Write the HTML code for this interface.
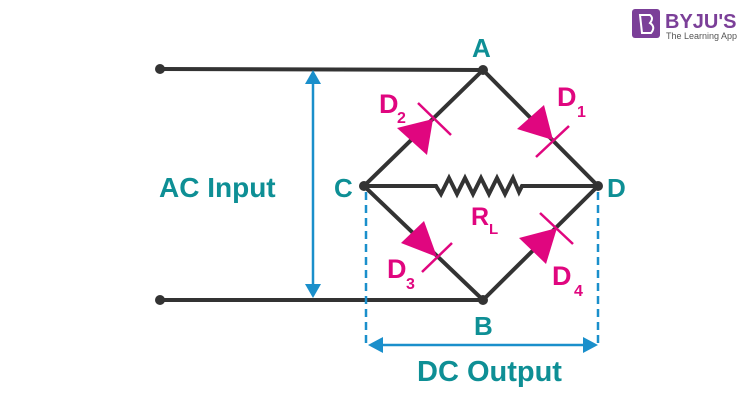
<!DOCTYPE html>
<html><head><style>
html,body{margin:0;padding:0;background:#fff;}
svg{display:block;}
text{font-family:"Liberation Sans",sans-serif;font-weight:bold;}
</style></head><body>
<svg width="750" height="419" viewBox="0 0 750 419" xmlns="http://www.w3.org/2000/svg">
<g stroke="#333" stroke-width="4" fill="none" stroke-linecap="round">
<line x1="160" y1="69" x2="483" y2="70"/>
<line x1="160" y1="300" x2="483" y2="300"/>
<polyline points="483,70 598,186 483,300 364,186 483,70"/>
<line x1="364" y1="186" x2="436" y2="186"/>
<line x1="522" y1="186" x2="598" y2="186"/>
<polyline points="436,186 441,194 449,178 457,194 465,178 473,194 481,178 489,194 497,178 505,194 513,178 519,192 522,186" stroke-linejoin="miter"/>
</g>
<g fill="#333">
<circle cx="160" cy="69" r="5"/><circle cx="160" cy="300" r="5"/>
<circle cx="483" cy="70" r="5"/><circle cx="483" cy="300" r="5"/>
<circle cx="364" cy="186" r="5"/><circle cx="598" cy="186" r="5"/>
</g>
<g stroke="#1a8fcb" stroke-width="2.5" fill="none" stroke-dasharray="8,5">
<line x1="366" y1="192" x2="366" y2="343"/>
<line x1="598" y1="192" x2="598" y2="343"/>
</g>
<g stroke="#1a8fcb" stroke-width="2.5">
<line x1="313" y1="82" x2="313" y2="286"/>
<line x1="380" y1="345" x2="586" y2="345"/>
</g>
<g fill="#1a8fcb">
<polygon points="313,70 305,84 321,84"/>
<polygon points="313,298 305,284 321,284"/>
<polygon points="368,345 383,337 383,353"/>
<polygon points="598,345 583,337 583,353"/>
</g>
<g fill="#e0067f">
<polygon points="517,129 544,105 553,140"/>
<polygon points="433,119 397,128 427,155"/>
<polygon points="437,257 401,243 424,221"/>
<polygon points="557,228 519,238 546,264"/>
</g>
<g stroke="#e0067f" stroke-width="2.5">
<line x1="536" y1="157" x2="569" y2="126"/>
<line x1="418" y1="103" x2="451" y2="135"/>
<line x1="422" y1="272" x2="452" y2="243"/>
<line x1="540" y1="213" x2="573" y2="244"/>
</g>
<g fill="#e0067f">
<text x="379" y="113" font-size="27">D</text><text x="397" y="123" font-size="16">2</text>
<text x="557" y="106" font-size="27">D</text><text x="577" y="117" font-size="16">1</text>
<text x="387" y="278" font-size="27">D</text><text x="406" y="289" font-size="16">3</text>
<text x="552" y="285" font-size="27">D</text><text x="574" y="296" font-size="16">4</text>
<text x="471" y="225" font-size="25">R</text><text x="489" y="234" font-size="15">L</text>
</g>
<g fill="#0e8f95">
<text x="472" y="57" font-size="26">A</text>
<text x="334" y="197" font-size="26">C</text>
<text x="607" y="197" font-size="26">D</text>
<text x="474" y="335" font-size="26">B</text>
<text x="159" y="197" font-size="28">AC Input</text>
<text x="417" y="381" font-size="29">DC Output</text>
</g>
<rect x="632" y="9" width="28" height="29" rx="3" fill="#7b3f98"/>
<path d="M640,15 L650,15 Q654,18 650,23 Q656,27 651,33 L642,33 Z" fill="none" stroke="#fff" stroke-width="2"/>
<text x="665" y="28" font-size="20" fill="#7b3f98">BYJU'S</text>
<text x="666" y="39" font-size="9" fill="#555" style="font-weight:normal">The Learning App</text>
</svg>
</body></html>
